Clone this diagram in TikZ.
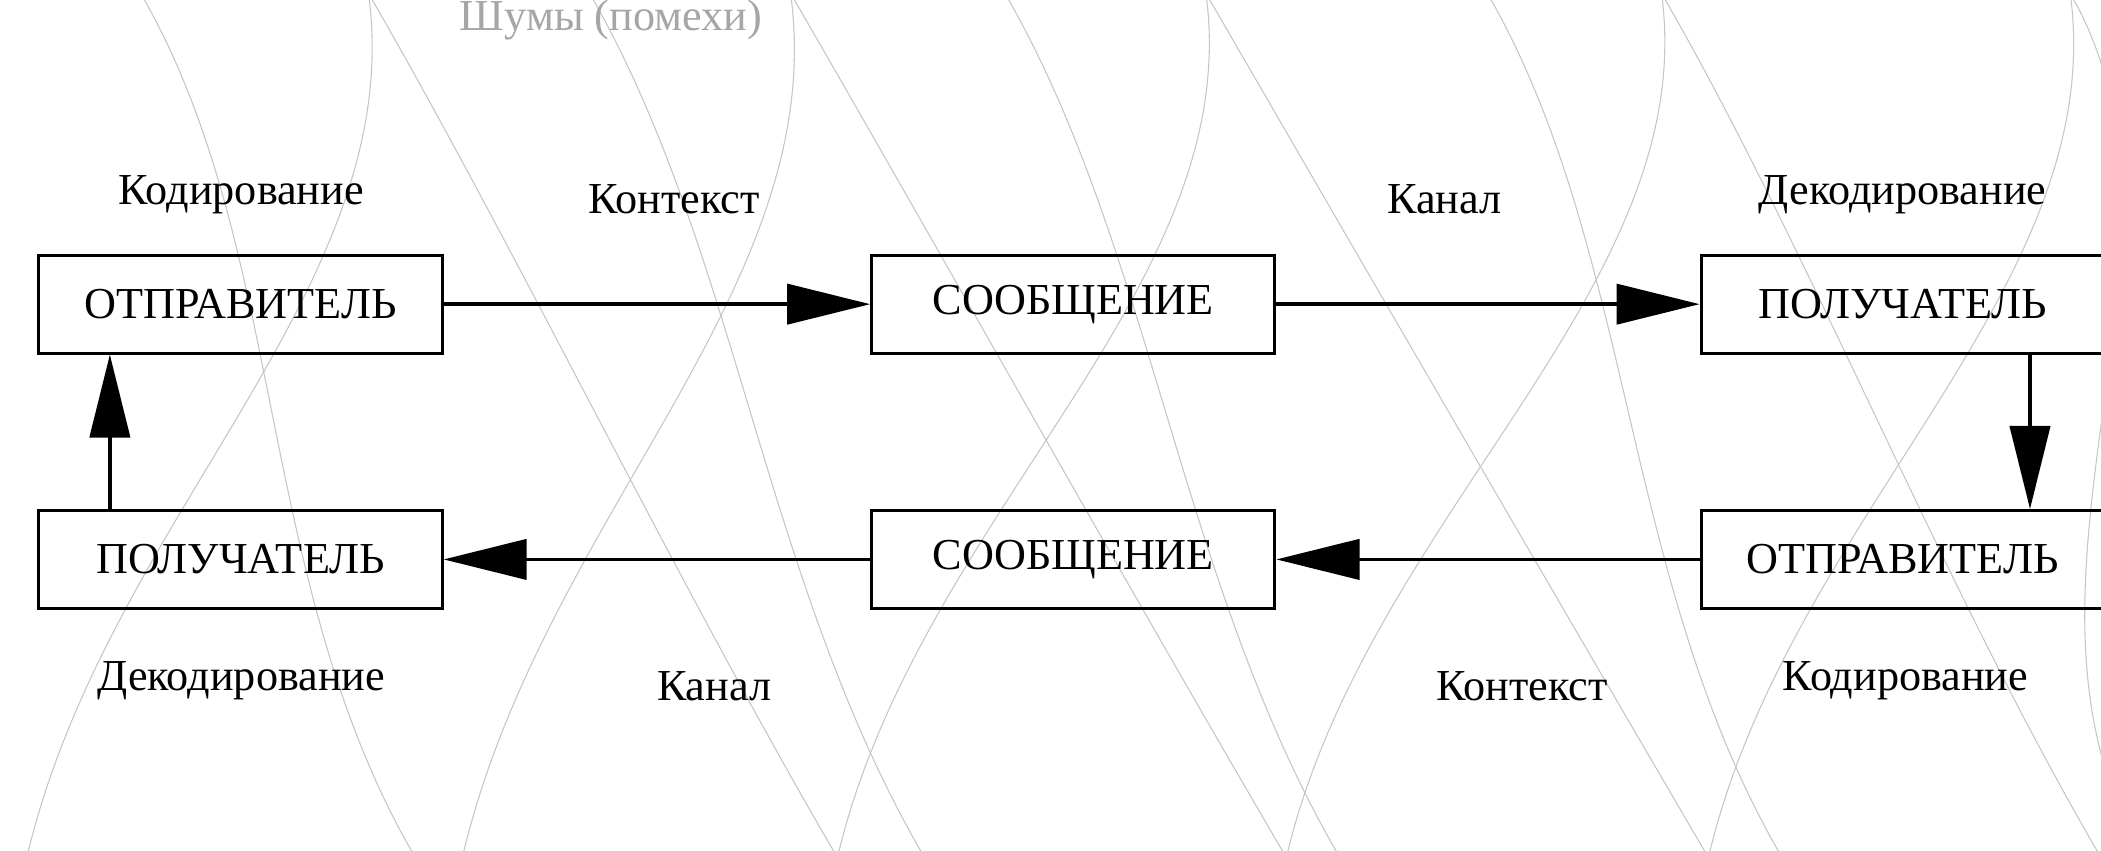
\documentclass[tikz,border=0pt]{standalone}
\usepackage{fontspec}
\setmainfont{Liberation Serif}
\usetikzlibrary{arrows.meta}
\begin{document}
\begin{tikzpicture}[x=1pt,y=1pt,
  box/.style={draw,line width=2.2pt,minimum width=301pt,minimum height=73pt,inner sep=0pt,font=\fontsize{33}{40}\selectfont},
  lbl/.style={font=\fontsize{33}{40}\selectfont},
  arr/.style={line width=2.6pt,-{Triangle[length=62pt,width=30pt]}},
  noise/.style={gray!45,line width=0.8pt}]
\useasboundingbox (0,0) rectangle (1568,635);
\begin{scope}
\clip (0,0) rectangle (1568,635);
\foreach \a/\b in {105/310,275/625,440/690,590/960,750/1000,900/1275,1110/1330,1240/1568,1545/1600}{
  \draw[noise] (\a,640) .. controls (\a+110,450) and (\b-120,200) .. (\b,-5);}
\foreach \a/\b in {275/20,590/345,900/625,1240/960,1545/1275}{
  \draw[noise] (\a,640) .. controls (\a+30,420) and (\b+60,250) .. (\b,-5);}
\end{scope}
\node[lbl,text=gray!70] (noise) at (456,620) {Шумы (помехи)};
\node[box] (s1) at (179.5,408) {ОТПРАВИТЕЛЬ};
\node[box] (m1) at (801,408) {СООБЩЕНИЕ};
\node[box] (r1) at (1420,408) {ПОЛУЧАТЕЛЬ};
\node[box] (r2) at (179.5,217.5) {ПОЛУЧАТЕЛЬ};
\node[box] (m2) at (801,217.5) {СООБЩЕНИЕ};
\node[box] (s2) at (1420,217.5) {ОТПРАВИТЕЛЬ};
\draw[arr] (s1) -- (m1);
\draw[arr] (m1) -- (r1);
\draw[arr] (r1.south -| 1515,0) -- (s2.north -| 1515,0);
\draw[arr] (s2) -- (m2);
\draw[arr] (m2) -- (r2);
\draw[arr] (r2.north -| 82,0) -- (s1.south -| 82,0);
\node[lbl] (t1) at (180,490) {Кодирование};
\node[lbl] (t2) at (503,486) {Контекст};
\node[lbl] (t3) at (1078,486) {Канал};
\node[lbl] (t4) at (1420,490) {Декодирование};
\node[lbl] (b1) at (180,127) {Декодирование};
\node[lbl] (b2) at (533,123) {Канал};
\node[lbl] (b3) at (1136,123) {Контекст};
\node[lbl] (b4) at (1422,127) {Кодирование};
\end{tikzpicture}
\end{document}
